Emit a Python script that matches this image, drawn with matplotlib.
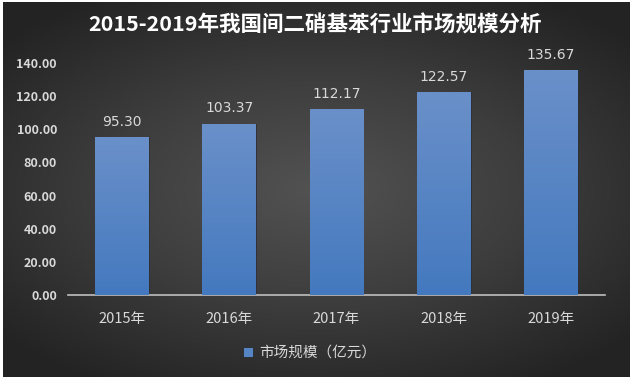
import numpy as np
import matplotlib
matplotlib.use('Agg')
import matplotlib.pyplot as plt
from matplotlib.colors import LinearSegmentedColormap

plt.rcParams['font.family'] = ['Noto Sans CJK SC', 'DejaVu Sans']

# 数据
years = ['2015年', '2016年', '2017年', '2018年', '2019年']
values = [95.30, 103.37, 112.17, 122.57, 135.67]
yticks = [0, 20, 40, 60, 80, 100, 120, 140]

fig = plt.figure(figsize=(6.3, 3.77), dpi=100)
fig.patch.set_facecolor('white')

# 背景径向渐变
bg = fig.add_axes([0.004, 0, 0.996, 0.994])
bg.set_axis_off()
yy, xx = np.mgrid[-1:1:300j, -1:1:500j]
r = np.sqrt((xx / 1.0) ** 2 + (yy / 0.9) ** 2)
bg_cmap = LinearSegmentedColormap.from_list('bg', ['#525252', '#3d3d3d', '#232323'])
bg.imshow(np.clip(r / 1.35, 0, 1), cmap=bg_cmap, aspect='auto', extent=[0, 1, 0, 1])

ax = fig.add_axes([0.108, 0.2175, 0.852, 0.6155])
ax.patch.set_alpha(0)
x = np.arange(len(years))
bars = ax.bar(x, values, width=0.5, color='#5585c5', edgecolor='#2a2a2a', linewidth=0.6, zorder=2)

# 柱子渐变
grad = np.linspace(0, 1, 100).reshape(-1, 1)
bar_cmap = LinearSegmentedColormap.from_list('bar', ['#4479bf', '#6a90c9'])
for b in bars:
    im = ax.imshow(grad, cmap=bar_cmap, aspect='auto', origin='lower', zorder=3,
                   extent=[b.get_x(), b.get_x() + b.get_width(), 0, b.get_height()])
    im.set_clip_path(b)

for xi, v in zip(x, values):
    ax.text(xi, v + 5, f'{v:.2f}', ha='center', va='bottom', color='#d9d9d9', fontsize=10,
            family=['DejaVu Sans'])

ax.set_xlim(-0.5, len(years) - 0.5)
ax.set_ylim(0, 140)
ax.set_yticks(yticks)
ax.set_yticklabels([f'{t:.2f}' for t in yticks], fontweight='bold', color='#d9d9d9', fontsize=9)
ax.set_xticks(x)
ax.set_xticklabels(years, color='#d9d9d9', fontsize=10.5)
ax.tick_params(axis='x', length=0, pad=12)
ax.tick_params(axis='y', length=0, pad=8)
for s in ['top', 'right', 'left']:
    ax.spines[s].set_visible(False)
ax.spines['bottom'].set_color('#bfbfbf')
ax.spines['bottom'].set_linewidth(1.2)

fig.text(0.5, 0.935, '2015-2019年我国间二硝基苯行业市场规模分析', ha='center', va='center',
         color='white', fontsize=15.5, fontweight='bold')

leg = ax.legend([bars], ['市场规模（亿元）'], loc='center', bbox_to_anchor=(0.45, -0.25),
                frameon=False, fontsize=10.5, handlelength=0.7, handleheight=0.7, handletextpad=0.4)
for t in leg.get_texts():
    t.set_color('#d9d9d9')

fig.savefig('out.png', dpi=100)
